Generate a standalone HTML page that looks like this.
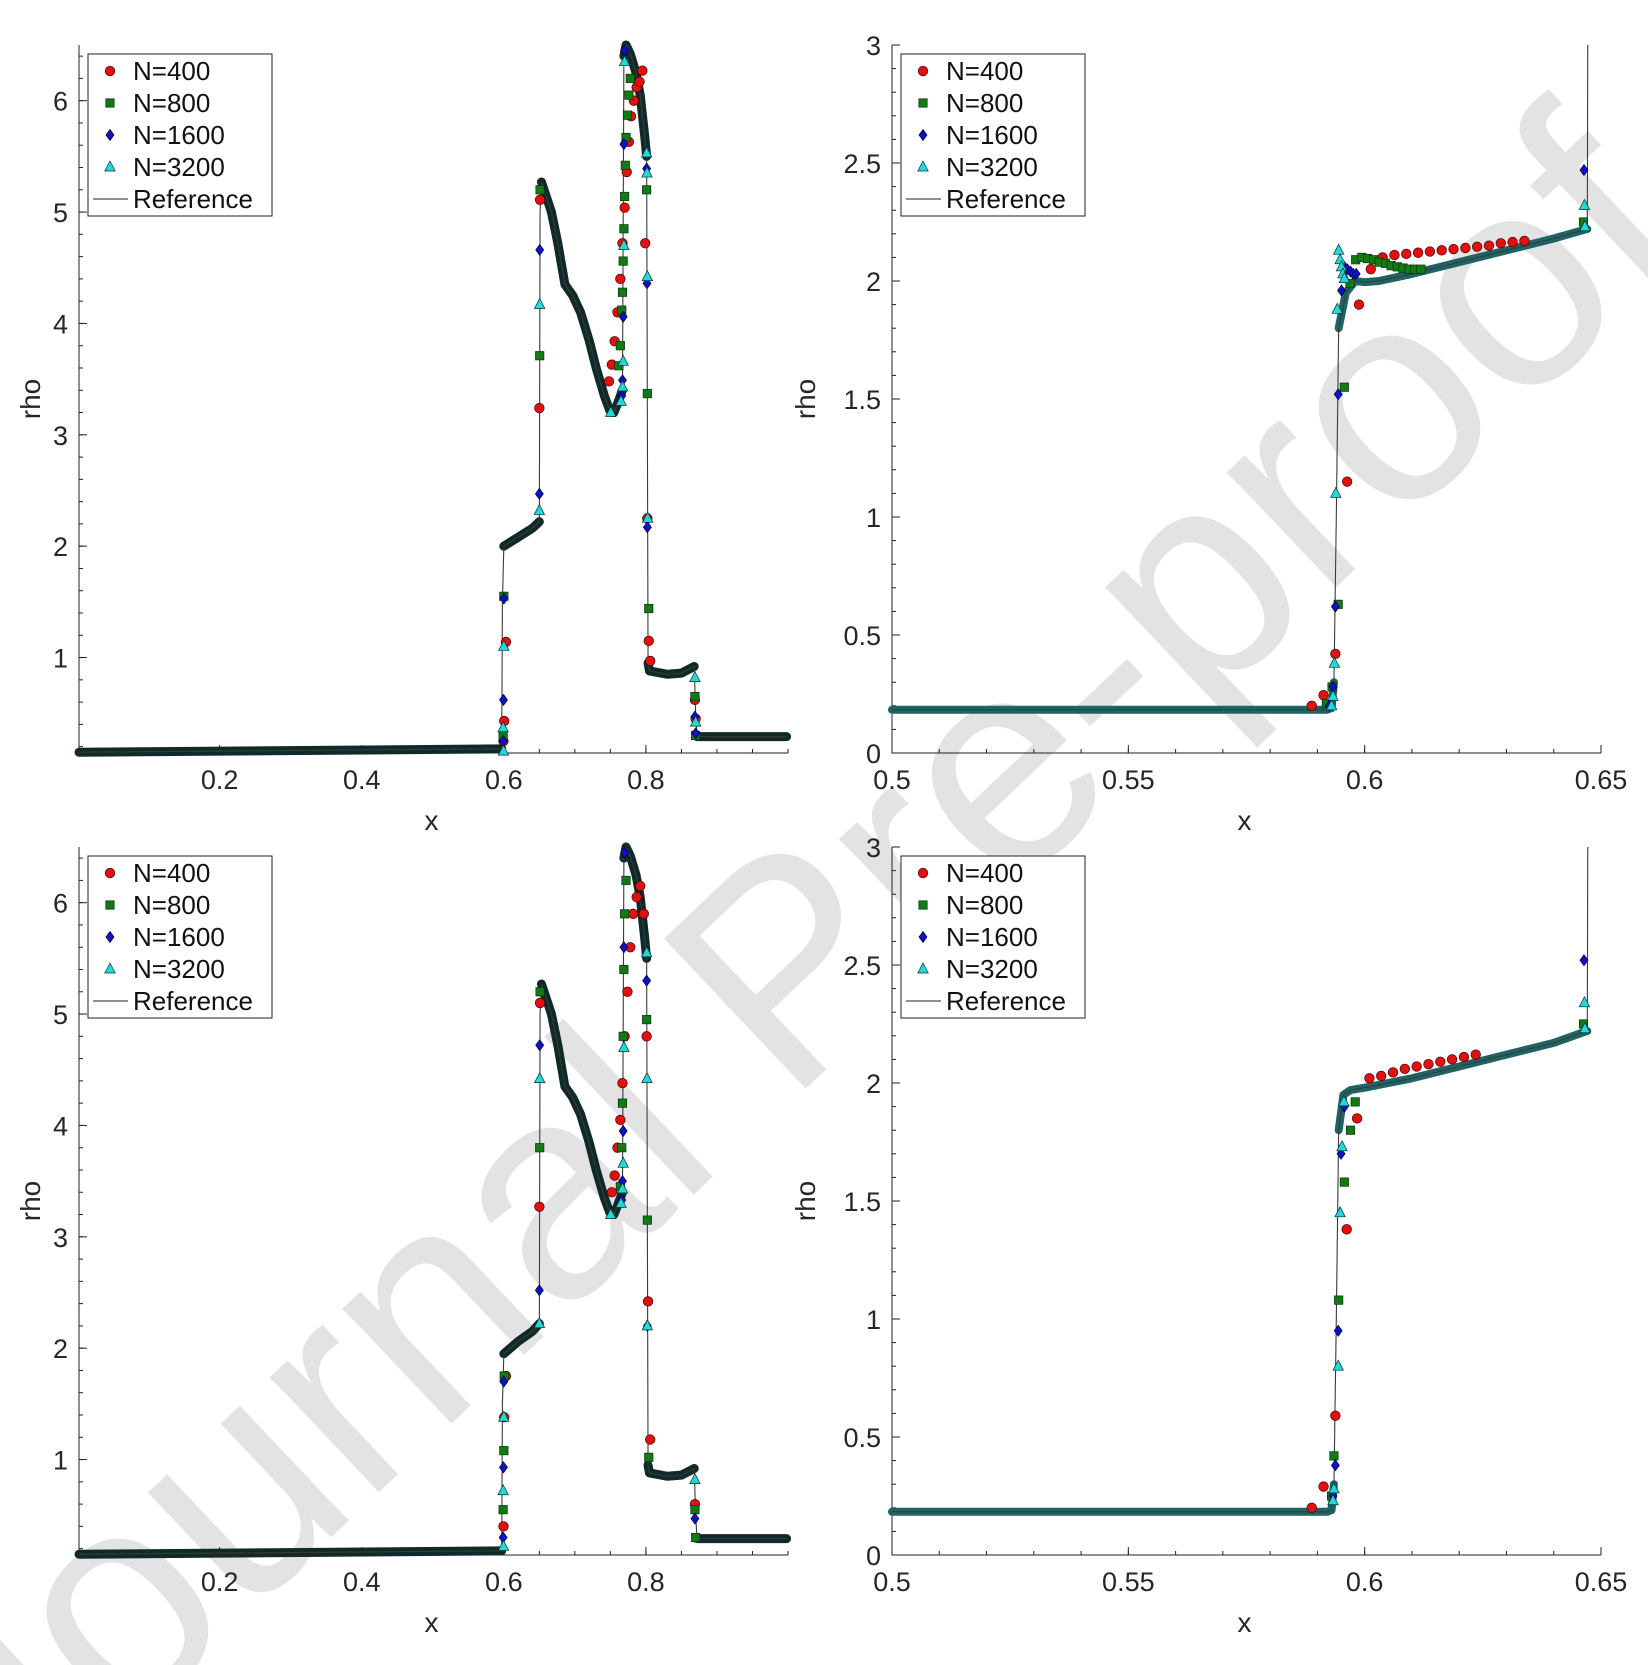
<!DOCTYPE html>
<html><head><meta charset="utf-8">
<style>
html,body{margin:0;padding:0;background:#fff;width:1648px;height:1665px;overflow:hidden;}
svg{display:block;font-family:"Liberation Sans",sans-serif;}
</style></head>
<body>
<svg id="fig" width="1648" height="1665" viewBox="0 0 1648 1665" xmlns="http://www.w3.org/2000/svg">
<text x="0" y="0" transform="translate(800,985) rotate(-43.4)" text-anchor="middle" dominant-baseline="middle" font-size="300" fill="#e3e3e3">Journal Pre-proof</text>
</svg>
<script>
// ---------- Panel A (top-left, full domain) ----------
const refA_x=[0.002,0.597,0.598,0.600,0.620,0.640,0.650,0.651,0.653,0.667,0.676,0.686,0.697,0.708,0.720,0.730,0.7415,0.749,0.755,0.760,0.767,0.769,0.772,0.778,0.786,0.792,0.798,0.801,0.803,0.805,0.830,0.850,0.868,0.870,0.872,0.998];
const refA_y=[0.15,0.18,1.5,2.0,2.08,2.16,2.22,5.0,5.27,5.0,4.72,4.35,4.25,4.1,3.85,3.6,3.35,3.22,3.2,3.28,3.4,6.4,6.5,6.42,6.25,6.05,5.7,5.5,0.95,0.88,0.85,0.86,0.92,0.5,0.29,0.29];
const a400_x=[0.5995,0.6005,0.603,0.650,0.651,0.748,0.752,0.756,0.760,0.764,0.767,0.770,0.773,0.776,0.779,0.783,0.787,0.791,0.795,0.799,0.802,0.804,0.806,0.869,0.870];
const a400_y=[0.25,0.43,1.14,3.24,5.11,3.48,3.63,3.84,4.1,4.4,4.72,5.04,5.36,5.63,5.86,6.0,6.12,6.17,6.27,4.72,2.25,1.15,0.97,0.62,0.45];
const a800_x=[0.599,0.600,0.6505,0.651,0.762,0.764,0.766,0.767,0.768,0.769,0.770,0.771,0.772,0.774,0.776,0.778,0.801,0.802,0.804,0.869,0.870];
const a800_y=[0.3,1.55,3.71,5.2,3.62,3.8,4.12,4.28,4.56,4.85,5.14,5.42,5.67,5.87,6.05,6.2,5.2,3.37,1.44,0.65,0.3];
const a1600_x=[0.599,0.5995,0.600,0.650,0.6505,0.766,0.767,0.768,0.769,0.770,0.801,0.8015,0.802,0.869,0.870];
const a1600_y=[0.25,0.62,1.53,2.47,4.66,3.35,3.49,4.06,5.61,6.45,5.39,4.36,2.17,0.47,0.32];
const a3200_x=[0.5995,0.599,0.600,0.650,0.6505,0.7505,0.765,0.767,0.768,0.769,0.770,0.801,0.8015,0.802,0.8025,0.869,0.870];
const a3200_y=[0.16,0.37,1.1,2.32,4.17,3.2,3.3,3.43,3.66,4.7,6.35,5.53,5.35,4.42,2.25,0.82,0.42];
// ---------- Panel C (bottom-left) ----------
const refC_x=[0.002,0.597,0.598,0.600,0.620,0.640,0.650,0.651,0.653,0.667,0.676,0.686,0.697,0.708,0.720,0.730,0.7415,0.749,0.755,0.760,0.767,0.769,0.772,0.778,0.786,0.792,0.798,0.801,0.803,0.805,0.830,0.850,0.868,0.870,0.872,0.998];
const refC_y=[0.15,0.18,1.5,1.95,2.06,2.15,2.22,5.0,5.27,5.0,4.72,4.35,4.25,4.1,3.85,3.6,3.35,3.22,3.2,3.28,3.4,6.4,6.5,6.42,6.25,6.05,5.7,5.5,0.95,0.88,0.85,0.86,0.92,0.5,0.29,0.29];
const c400_x=[0.5995,0.6005,0.603,0.650,0.651,0.752,0.756,0.760,0.764,0.767,0.770,0.774,0.778,0.782,0.787,0.792,0.797,0.801,0.803,0.806,0.869];
const c400_y=[0.4,1.38,1.75,3.27,5.1,3.4,3.55,3.8,4.05,4.38,4.8,5.2,5.6,5.9,6.05,6.15,5.9,4.8,2.42,1.18,0.6];
const c800_x=[0.599,0.600,0.6005,0.6505,0.651,0.764,0.766,0.767,0.768,0.769,0.770,0.772,0.801,0.802,0.804,0.869,0.870];
const c800_y=[0.55,1.08,1.75,3.8,5.2,3.45,3.8,4.2,4.8,5.4,5.9,6.2,4.95,3.15,1.02,0.55,0.3];
const c1600_x=[0.599,0.5995,0.600,0.650,0.6505,0.766,0.767,0.768,0.769,0.770,0.801,0.802,0.869];
const c1600_y=[0.3,0.93,1.7,2.52,4.72,3.33,3.5,3.95,5.6,6.45,5.3,2.2,0.47];
const c3200_x=[0.5995,0.599,0.600,0.650,0.6505,0.7505,0.765,0.767,0.768,0.769,0.801,0.8015,0.802,0.869];
const c3200_y=[0.22,0.72,1.38,2.22,4.42,3.2,3.3,3.43,3.66,4.7,5.55,4.42,2.2,0.82];
// ---------- Panel B (top-right, zoom) ----------
const refB_x=[0.5,0.592,0.593,0.5935,0.594,0.5945,0.596,0.598,0.600,0.603,0.610,0.620,0.630,0.640,0.647,0.6471,0.6472];
const refB_y=[0.183,0.183,0.19,0.3,1.0,1.8,1.95,2.0,1.995,2.0,2.03,2.08,2.13,2.18,2.22,2.22,3.0];
const b400_x=[0.5888,0.5913,0.5938,0.5963,0.5988,0.6013,0.6038,0.6063,0.6088,0.6113,0.6138,0.6163,0.6188,0.6213,0.6238,0.6263,0.6288,0.6313,0.6338];
const b400_y=[0.20,0.245,0.42,1.15,1.90,2.05,2.10,2.11,2.115,2.12,2.125,2.13,2.135,2.14,2.145,2.15,2.16,2.165,2.17];
const b800_x=[0.5919,0.5931,0.5944,0.5957,0.5969,0.5981,0.5994,0.6006,0.6019,0.6031,0.6044,0.6056,0.6069,0.6081,0.6094,0.6106,0.6119,0.6463];
const b800_y=[0.21,0.28,0.63,1.55,1.99,2.09,2.10,2.095,2.09,2.08,2.075,2.065,2.06,2.055,2.05,2.05,2.05,2.25];
const b1600_x=[0.5925,0.5933,0.5938,0.5944,0.5951,0.5957,0.5963,0.5970,0.5976,0.5982,0.6464];
const b1600_y=[0.2,0.28,0.62,1.52,1.96,2.06,2.05,2.04,2.03,2.03,2.47];
const b3200_x=[0.5930,0.5933,0.5936,0.5939,0.5942,0.5945,0.5948,0.5951,0.5954,0.5957,0.6465,0.6466];
const b3200_y=[0.2,0.24,0.38,1.1,1.88,2.13,2.09,2.06,2.03,2.01,2.32,2.23];
// ---------- Panel D (bottom-right, zoom) ----------
const refD_x=[0.5,0.592,0.593,0.5935,0.594,0.5945,0.5955,0.597,0.600,0.610,0.620,0.630,0.640,0.647,0.6471,0.6472];
const refD_y=[0.183,0.183,0.19,0.3,1.0,1.8,1.95,1.97,1.98,2.02,2.07,2.12,2.17,2.22,2.22,3.0];
const d400_x=[0.5888,0.5913,0.5938,0.5962,0.5984,0.6010,0.6035,0.6060,0.6085,0.6110,0.6135,0.6160,0.6185,0.6210,0.6235];
const d400_y=[0.2,0.29,0.59,1.38,1.85,2.02,2.03,2.045,2.06,2.07,2.08,2.09,2.10,2.11,2.12];
const d800_x=[0.5930,0.5935,0.5945,0.5957,0.5970,0.5980,0.6463];
const d800_y=[0.25,0.42,1.08,1.58,1.80,1.92,2.25];
const d1600_x=[0.5933,0.5938,0.5944,0.5950,0.5957,0.6464];
const d1600_y=[0.25,0.38,0.95,1.70,1.90,2.52];
const d3200_x=[0.5933,0.5935,0.5944,0.5948,0.5952,0.5956,0.6465,0.6466];
const d3200_y=[0.23,0.28,0.80,1.45,1.73,1.92,2.34,2.23];

const legendLabels=["N=400","N=800","N=1600","N=3200","Reference"];
const xTicksFull=[0.2,0.4,0.6,0.8];
const yTicksFull=[1,2,3,4,5,6];
const xTicksZoom=[0.5,0.55,0.6,0.65];
const yTicksZoom=[0,0.5,1,1.5,2,2.5,3];

const NS="http://www.w3.org/2000/svg";
const svg=document.getElementById('fig');
function mk(tag,attrs,parent){const e=document.createElementNS(NS,tag);for(const k in attrs)e.setAttribute(k,attrs[k]);(parent||svg).appendChild(e);return e;}
const styles=[{shape:'circle',fill:'#e41010'},{shape:'square',fill:'#137a13'},{shape:'diamond',fill:'#1010c8'},{shape:'triangle',fill:'#22d8d8'}];
function marker(g,shape,fill,px,py,name){
  let e;
  if(shape==='circle')e=mk('circle',{cx:px,cy:py,r:4.8,fill:fill,stroke:'#400','stroke-width':0.7},g);
  else if(shape==='square')e=mk('rect',{x:px-4.2,y:py-4.2,width:8.4,height:8.4,fill:fill,stroke:'#031','stroke-width':0.7},g);
  else if(shape==='diamond')e=mk('polygon',{points:`${px},${py-5.5} ${px+4},${py} ${px},${py+5.5} ${px-4},${py}`,fill:fill,stroke:'#003','stroke-width':0.7},g);
  else e=mk('polygon',{points:`${px},${py-6} ${px+5.2},${py+4} ${px-5.2},${py+4}`,fill:fill,stroke:'#033','stroke-width':0.7},g);
  
  
}
function panel(p){
  const g=mk('g',{});
  
  
  const L=p.left,R=p.right,T=p.top,B=p.bottom;
  const sx=v=>L+(v-p.xmin)/(p.xmax-p.xmin)*(R-L);
  const sy=v=>B-(v-p.ymin)/(p.ymax-p.ymin)*(B-T);
  const ax=mk('path',{d:`M${L},${T} L${L},${B} L${R},${B}`,stroke:'#222','stroke-width':1,fill:'none'},g);
  
  
  for(let v=p.xminorStart;v<=p.xmax+1e-9;v+=p.xminor){const x=sx(v);mk('line',{x1:x,y1:B,x2:x,y2:B-4,stroke:'#222','stroke-width':1},g);}
  for(let v=p.yminorStart;v<=p.ymax+1e-9;v+=p.yminor){const y=sy(v);mk('line',{x1:L,y1:y,x2:L+4,y2:y,stroke:'#222','stroke-width':1},g);}
  p.xt.forEach(v=>{const x=sx(v);mk('line',{x1:x,y1:B,x2:x,y2:B-8,stroke:'#222','stroke-width':1},g);
    const t=mk('text',{x:x,y:B+36,'text-anchor':'middle','font-size':27,fill:'#262626'},g);t.textContent=String(v);
    });
  p.yt.forEach(v=>{const y=sy(v);mk('line',{x1:L,y1:y,x2:L+8,y2:y,stroke:'#222','stroke-width':1},g);
    const t=mk('text',{x:L-11,y:y+10,'text-anchor':'end','font-size':27,fill:'#262626'},g);t.textContent=String(v);
    });
  const xl=mk('text',{x:(L+R)/2+p.xlabOff,y:B+77,'text-anchor':'middle','font-size':28,fill:'#262626'},g);xl.textContent='x';
  
  const yl=mk('text',{x:0,y:0,transform:`translate(${p.ylabX},${(T+B)/2}) rotate(-90)`,'text-anchor':'middle','font-size':28,fill:'#262626'},g);yl.textContent='rho';
  
  let d='';
  for(let i=0;i<p.rx.length-1;i++){
    const x1=sx(p.rx[i]),y1=sy(p.ry[i]),x2=sx(p.rx[i+1]),y2=sy(p.ry[i+1]);
    if(Math.abs(y2-y1)>8*Math.abs(x2-x1)+10)continue;
    d+=`M${x1},${y1}L${x2},${y2}`;
  }
  const band=mk('path',{d:d,stroke:p.bandColor,'stroke-width':p.bandW,'stroke-linecap':'round','stroke-linejoin':'round',fill:'none'},g);
  
  const ref=mk('polyline',{points:p.rx.map((v,i)=>sx(v)+','+sy(p.ry[i])).join(' '),stroke:'#3a3a3a','stroke-width':1.1,fill:'none'},g);
  
  const names=['series-n400','series-n800','series-n1600','series-n3200'];
  p.series.forEach((s,k)=>{
    const sg=mk('g',{},g);
    
    s[0].forEach((v,i)=>marker(sg,styles[k].shape,styles[k].fill,sx(v),sy(s[1][i]),'marker'));
  });
  const lx=p.left+9,ly=T+9;
  const lg=mk('g',{},g);
  
  mk('rect',{x:lx,y:ly,width:184,height:162,fill:'#fff',stroke:'#222','stroke-width':1},lg);
  legendLabels.forEach((lab,i)=>{
    const cy=ly+17+i*32;
    if(i<4)marker(lg,styles[i].shape,styles[i].fill,lx+22,cy,'legend-marker');
    else{const ln=mk('line',{x1:lx+5,y1:cy,x2:lx+40,y2:cy,stroke:'#222','stroke-width':1},lg);}
    const t=mk('text',{x:lx+45,y:cy+9,'font-size':26,fill:'#111'},lg);t.textContent=lab;
    
  });
}
const full={left:79,right:788,xmin:0.002,xmax:1.0,ymin:0.143,ymax:6.5,xt:xTicksFull,yt:yTicksFull,xminor:0.05,xminorStart:0.05,yminor:0.2,yminorStart:0.2,ylabX:40,xlabOff:-2,bandColor:'#0f2a28',bandW:9};
const zoom={left:892,right:1601,xmin:0.5,xmax:0.65,ymin:0,ymax:3,xt:xTicksZoom,yt:yTicksZoom,xminor:0.01,xminorStart:0.51,yminor:0.1,yminorStart:0.1,ylabX:815,xlabOff:-2,bandColor:'#1f6464',bandW:8};
panel(Object.assign({},full,{name:'panel-top-left',top:45,bottom:753,rx:refA_x,ry:refA_y,series:[[a400_x,a400_y],[a800_x,a800_y],[a1600_x,a1600_y],[a3200_x,a3200_y]]}));
panel(Object.assign({},zoom,{name:'panel-top-right',top:45,bottom:753,rx:refB_x,ry:refB_y,series:[[b400_x,b400_y],[b800_x,b800_y],[b1600_x,b1600_y],[b3200_x,b3200_y]]}));
panel(Object.assign({},full,{name:'panel-bottom-left',top:847,bottom:1555,rx:refC_x,ry:refC_y,series:[[c400_x,c400_y],[c800_x,c800_y],[c1600_x,c1600_y],[c3200_x,c3200_y]]}));
panel(Object.assign({},zoom,{name:'panel-bottom-right',top:847,bottom:1555,rx:refD_x,ry:refD_y,series:[[d400_x,d400_y],[d800_x,d800_y],[d1600_x,d1600_y],[d3200_x,d3200_y]]}));
</script>
</body></html>
